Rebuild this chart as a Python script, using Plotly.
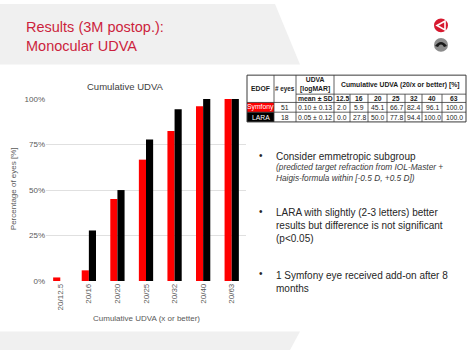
import plotly.graph_objects as go

# ---------------- data ----------------
thresholds = ["12.5", "16", "20", "25", "32", "40", "63"]
categories = ["20/" + t for t in thresholds]
symfony_cum = [2.0, 5.9, 45.1, 66.7, 82.4, 96.1, 100.0]
lara_cum = [0.0, 27.8, 50.0, 77.8, 94.4, 100.0, 100.0]
edof_names = ["Symfony", "LARA"]
n_eyes = [51, 18]
udva_mean = [0.10, 0.05]
udva_sd = [0.13, 0.12]
y_ticks = [0, 0.25, 0.5, 0.75, 1.0]

W, H = 474, 355
FONT = "Liberation Sans, Arial, sans-serif"


def px(x):
    return x / W


def py(y):
    return 1 - y / H


fig = go.Figure()
fig.add_trace(go.Bar(x=categories, y=[v / 100 for v in symfony_cum], name="Symfony",
                     marker=dict(color="#ff0000", line=dict(width=0))))
fig.add_trace(go.Bar(x=categories, y=[v / 100 for v in lara_cum], name="LARA",
                     marker=dict(color="#000000", line=dict(width=0))))

shapes = []
annotations = []

# ---------- background decoration ----------
shapes.append(dict(type="path", xref="paper", yref="paper", layer="below",
                   path=f"M {px(0)},{py(0)} L {px(275)},{py(0)} L {px(300)},{py(62)} L {px(0)},{py(62)} Z",
                   fillcolor="#f0f0f0", line=dict(width=0)))
shapes.append(dict(type="path", xref="paper", yref="paper", layer="below",
                   path=f"M {px(0)},{py(336)} L {px(300)},{py(336)} L {px(290)},{py(355)} L {px(0)},{py(355)} Z",
                   fillcolor="#f0f0f0", line=dict(width=0)))

# ---------- logo ----------
shapes.append(dict(type="circle", xref="paper", yref="paper",
                   x0=px(434), x1=px(448), y0=py(15), y1=py(29),
                   fillcolor="#d7192f", line=dict(width=0)))
shapes.append(dict(type="path", xref="paper", yref="paper",
                   path=f"M {px(437)},{py(22)} L {px(445)},{py(17.5)} L {px(445)},{py(26.5)} Z",
                   fillcolor="rgba(0,0,0,0)", line=dict(color="white", width=1.6)))
shapes.append(dict(type="circle", xref="paper", yref="paper",
                   x0=px(434), x1=px(448), y0=py(35), y1=py(49),
                   fillcolor="#8c8c8c", line=dict(width=0)))
shapes.append(dict(type="path", xref="paper", yref="paper",
                   path=f"M {px(435)},{py(43)} Q {px(441)},{py(35)} {px(447)},{py(43)} L {px(444)},{py(44)} Q {px(441)},{py(39)} {px(438)},{py(44)} Z",
                   fillcolor="#1a1a1a", line=dict(width=0)))

# ---------- slide title ----------
annotations.append(dict(text="Results (3M postop.):<br>Monocular UDVA", xref="paper", yref="paper",
                        x=px(24), y=py(33), xanchor="left", yanchor="middle", align="left",
                        showarrow=False, font=dict(family=FONT, size=14.5, color="#cc1f3d")))

# ---------- chart texts ----------
annotations.append(dict(text="Cumulative UDVA", xref="paper", yref="paper", x=px(126), y=py(85),
                        xanchor="center", yanchor="middle", showarrow=False,
                        font=dict(family=FONT, size=9.5, color="#404040")))
annotations.append(dict(text="Percentage of eyes [%]", xref="paper", yref="paper", x=px(13), y=py(190),
                        xanchor="center", yanchor="middle", textangle=-90, showarrow=False,
                        font=dict(family=FONT, size=8, color="#595959")))
annotations.append(dict(text="Cumulative UDVA (x or better)", xref="paper", yref="paper", x=px(146), y=py(323),
                        xanchor="center", yanchor="middle", showarrow=False,
                        font=dict(family=FONT, size=8, color="#595959")))

# ---------- table ----------
col_x = [247, 274, 296, 334, 350, 368, 387, 405, 422, 442, 466]
row_y = [73, 92.5, 101, 111, 121]
line_c = "#3a3a3a"

shapes.append(dict(type="rect", xref="paper", yref="paper", x0=px(col_x[0]), x1=px(col_x[1]),
                   y0=py(row_y[2]), y1=py(row_y[3]), fillcolor="#ff0000", line=dict(width=0)))
shapes.append(dict(type="rect", xref="paper", yref="paper", x0=px(col_x[0]), x1=px(col_x[1]),
                   y0=py(row_y[3]), y1=py(row_y[4]), fillcolor="#000000", line=dict(width=0)))
shapes.append(dict(type="rect", xref="paper", yref="paper", layer="below", x0=px(col_x[0]), x1=px(col_x[-1]),
                   y0=py(row_y[0]), y1=py(row_y[-1]), fillcolor="white", line=dict(width=0)))


def hline(x0, x1, y, w=0.8):
    shapes.append(dict(type="line", xref="paper", yref="paper", x0=px(x0), x1=px(x1), y0=py(y), y1=py(y),
                       line=dict(color=line_c, width=w)))


def vline(x, y0, y1, w=0.8):
    shapes.append(dict(type="line", xref="paper", yref="paper", x0=px(x), x1=px(x), y0=py(y0), y1=py(y1),
                       line=dict(color=line_c, width=w)))


hline(col_x[0], col_x[-1], row_y[0], 1)
hline(col_x[0], col_x[-1], row_y[-1], 1)
hline(col_x[2], col_x[-1], row_y[1])
hline(col_x[0], col_x[-1], row_y[2])
hline(col_x[0], col_x[-1], row_y[3])
vline(col_x[0], row_y[0], row_y[-1], 1)
vline(col_x[-1], row_y[0], row_y[-1], 1)
for cx in col_x[1:4]:
    vline(cx, row_y[0], row_y[-1])
for cx in col_x[4:-1]:
    vline(cx, row_y[1], row_y[-1])


def cell_text(t, x, y, bold=False, color="#1a1a1a", size=6.8):
    if bold:
        t = "<b>" + t + "</b>"
    annotations.append(dict(text=t, xref="paper", yref="paper", x=px(x), y=py(y), xanchor="center",
                            yanchor="middle", showarrow=False, font=dict(family=FONT, size=size, color=color)))


def mid(a, b):
    return (a + b) / 2


cell_text("EDOF", mid(col_x[0], col_x[1]), mid(row_y[0], row_y[2]), True)
cell_text("# eyes", mid(col_x[1], col_x[2]), mid(row_y[0], row_y[2]), True, size=6.3)
cell_text("UDVA<br>[logMAR]", mid(col_x[2], col_x[3]), mid(row_y[0], row_y[1]), True)
cell_text("mean ± SD", mid(col_x[2], col_x[3]), mid(row_y[1], row_y[2]), True)
cell_text("Cumulative UDVA (20/x or better) [%]", mid(col_x[3], col_x[-1]), mid(row_y[0], row_y[1]), True)
for i, t in enumerate(thresholds):
    cell_text(t, mid(col_x[3 + i], col_x[4 + i]), mid(row_y[1], row_y[2]), True)

rows = [symfony_cum, lara_cum]
for r, name in enumerate(edof_names):
    yc = mid(row_y[2 + r], row_y[3 + r])
    cell_text(name, mid(col_x[0], col_x[1]), yc, color="white")
    cell_text(str(n_eyes[r]), mid(col_x[1], col_x[2]), yc)
    cell_text(f"{udva_mean[r]:.2f} ± {udva_sd[r]:.2f}", mid(col_x[2], col_x[3]), yc)
    for i, v in enumerate(rows[r]):
        cell_text(f"{v:.1f}", mid(col_x[3 + i], col_x[4 + i]), yc)

# ---------- bullets ----------
bullets = [
    (155, "Consider emmetropic subgroup"),
    (213, "LARA with slightly (2-3 letters) better<br>results but difference is not significant<br>(p<0.05)"),
    (277, "1 Symfony eye received add-on after 8<br>months"),
]
for yb, txt in bullets:
    annotations.append(dict(text="•", xref="paper", yref="paper", x=px(261), y=py(yb), xanchor="center",
                            yanchor="middle", showarrow=False, font=dict(family=FONT, size=10, color="#262626")))
    annotations.append(dict(text=txt, xref="paper", yref="paper", x=px(274), y=py(yb - 6.5),
                            xanchor="left", yanchor="top", align="left", showarrow=False,
                            font=dict(family=FONT, size=10, color="#262626")))
annotations.append(dict(text="<i>(predicted target refraction from IOL-Master +<br>Haigis-formula within [-0.5 D, +0.5 D])</i>",
                        xref="paper", yref="paper", x=px(274), y=py(160.5), xanchor="left", yanchor="top",
                        align="left", showarrow=False, font=dict(family=FONT, size=8.3, color="#3a3a3a")))

fig.update_layout(
    width=W, height=H, margin=dict(l=0, r=0, t=0, b=0),
    paper_bgcolor="white", plot_bgcolor="white",
    showlegend=False, barmode="group", bargap=0.5, bargroupgap=0,
    font=dict(family=FONT, color="#595959"),
    xaxis=dict(domain=[px(46), px(246)], tickangle=-90, tickfont=dict(size=8, color="#595959"),
               showline=False, ticks="", showgrid=False, fixedrange=True),
    yaxis=dict(domain=[py(284.3), py(97.5)], range=[0, 1], tickvals=y_ticks, tickformat=".0%",
               tickfont=dict(size=8, color="#595959"), showgrid=True, gridcolor="#e0e0e0", gridwidth=1,
               zeroline=False, showline=False, ticks="", fixedrange=True),
    shapes=shapes, annotations=annotations,
)

fig.write_html("out.html", config={"displayModeBar": False},
               post_script="document.body.style.margin='0';document.body.style.overflow='hidden';")
